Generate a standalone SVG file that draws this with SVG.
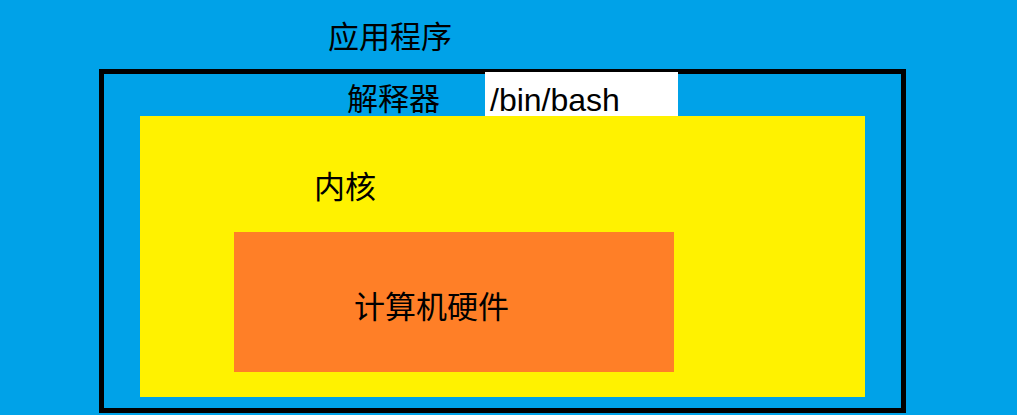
<svg xmlns="http://www.w3.org/2000/svg" width="1017" height="415" viewBox="0 0 1017 415">
<style>
text{font-family:"Noto Sans CJK SC","Liberation Sans",sans-serif;font-size:31px;fill:#000}
.lat{font-family:"Liberation Sans","Noto Sans",sans-serif;font-size:32px}
</style>
<rect width="1017" height="415" fill="#00A2E8"/>
<g id="app"><text x="328" y="48">应用程序</text></g>
<g id="interp">
<rect x="101.5" y="71.5" width="802" height="339" fill="none" stroke="#000" stroke-width="5"/>
<text x="347" y="110">解释器</text>
<rect x="485" y="72" width="193" height="56" fill="#fff"/>
<text class="lat" x="490" y="111">/bin/bash</text>
</g>
<g id="kernel">
<rect x="140" y="116" width="725" height="281" fill="#FFF200"/>
<text x="314" y="198">内核</text>
</g>
<g id="hw">
<rect x="234" y="232" width="440" height="140" fill="#FF7F27"/>
<text x="354" y="318">计算机硬件</text>
</g>
<g id="connectors"/>
</svg>
